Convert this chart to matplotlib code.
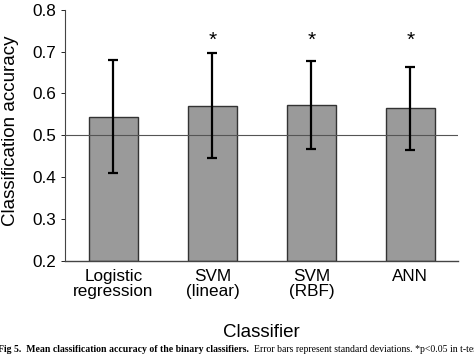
import matplotlib
matplotlib.use("Agg")
import matplotlib.pyplot as plt

categories = ["Logistic\nregression", "SVM\n(linear)", "SVM\n(RBF)", "ANN"]
means = [0.544, 0.571, 0.573, 0.564]
sds = [0.135, 0.126, 0.105, 0.100]
significant = [False, True, True, True]
yticks = [0.2, 0.3, 0.4, 0.5, 0.6, 0.7, 0.8]
chance = 0.5

plt.rcParams['font.family'] = ['Liberation Sans', 'DejaVu Sans']

fig = plt.figure(figsize=(4.74, 3.56), dpi=100)
ax = fig.add_axes([0.137, 0.267, 0.829, 0.706])

x = list(range(1, len(categories) + 1))
ax.bar(x, [m - 0.2 for m in means], bottom=0.2, width=0.5, color='#9a9a9a',
       edgecolor='#333333', linewidth=1.0, zorder=2)
ax.errorbar(x, means, yerr=sds, fmt='none', ecolor='black', elinewidth=1.6,
            capsize=3.7, capthick=1.6, zorder=4)
ax.axhline(chance, color='#555555', linewidth=0.8, zorder=3)

for xi, s in zip(x, significant):
    if s:
        ax.text(xi, 0.727, '*', ha='center', va='center', fontsize=15)

ax.set_xlim(0.51, 4.48)
ax.set_ylim(0.2, 0.8)
ax.set_yticks(yticks)
ax.set_yticklabels([f"{t:.1f}" for t in yticks])
ax.set_xticks(x)
ax.set_xticklabels(categories, linespacing=1.0)
ax.tick_params(axis='x', length=0, labelsize=12.3, pad=6)
ax.tick_params(axis='y', length=3, labelsize=12.3, direction='out', width=0.6)
for sp in ['top', 'right']:
    ax.spines[sp].set_visible(False)
ax.spines['left'].set_color('#444444')
ax.spines['bottom'].set_color('#444444')
ax.spines['left'].set_linewidth(0.8)
ax.spines['bottom'].set_linewidth(1.0)

ax.set_ylabel("Classification accuracy", fontsize=13.5)
ax.yaxis.set_label_coords(-0.118, 0.52)
ax.set_xlabel("Classifier", fontsize=13.5, labelpad=18)

t1 = fig.text(-0.004, 0.012, "Fig 5.  Mean classification accuracy of the binary classifiers.",
              fontsize=7.0, fontweight='bold', va='baseline',
              family=['Liberation Serif', 'DejaVu Serif'])
ax.annotate("  Error bars represent standard deviations. *p<0.05 in t-test",
            xy=(1, 0), xycoords=t1, va='bottom', ha='left',
            fontsize=7.0, family=['Liberation Serif', 'DejaVu Serif'], annotation_clip=False)

fig.savefig("out.png", dpi=100)
